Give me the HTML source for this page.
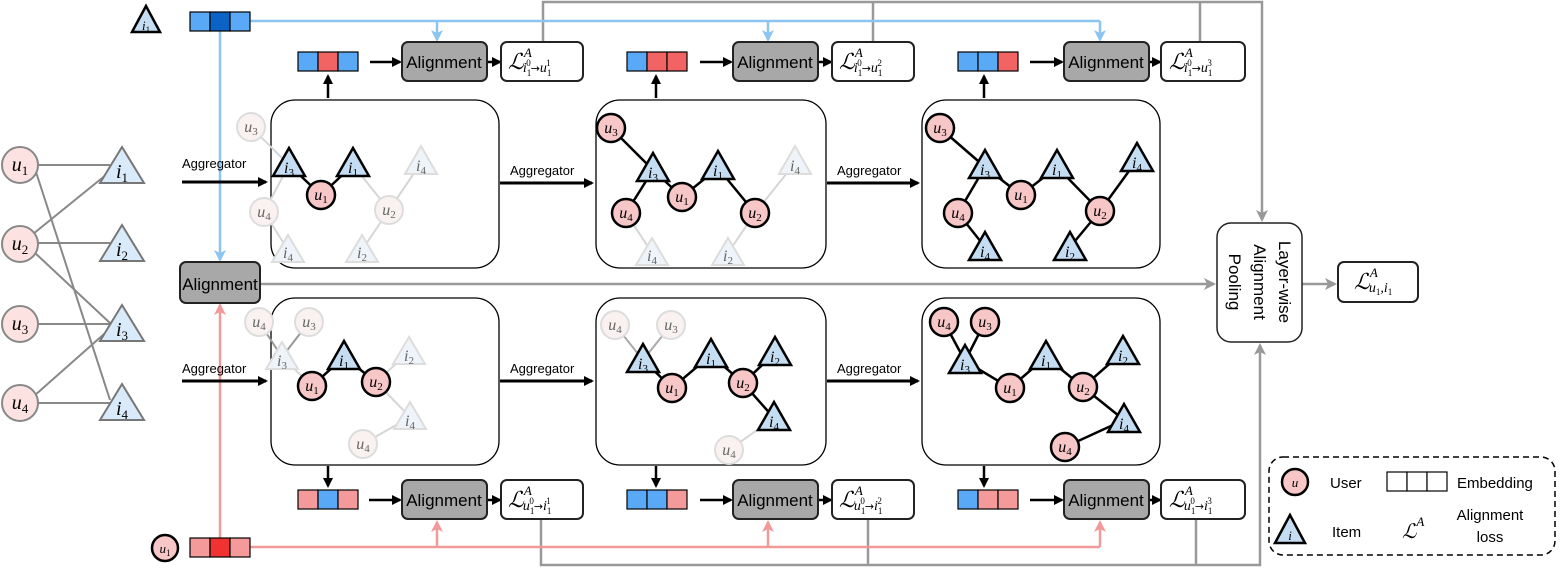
<!DOCTYPE html>
<html><head><meta charset="utf-8"><style>
html,body{margin:0;padding:0;background:#fff}
svg{display:block}
.n{font-family:"Liberation Serif",serif;font-style:italic;font-size:16px;text-anchor:middle}
.n tspan{font-style:normal;font-size:11px}
.nf{fill:#666}
.u{fill:#f7c6c6;stroke:#000;stroke-width:2.5}
.uf{fill:#faf1f1;stroke:#ddd;stroke-width:2}
.t{fill:#c4ddf3;stroke:#000;stroke-width:2.5;stroke-linejoin:miter}
.tf{fill:#eef4f9;stroke:#ddd;stroke-width:2}
.e{stroke:#000;stroke-width:2.5}
.ef{stroke:#d6d6d6;stroke-width:2}
.al{fill:#a8a8a8;stroke:#222;stroke-width:2}
.at{font-family:"Liberation Sans",sans-serif;font-size:17px;text-anchor:middle}
.lb{fill:#fff;stroke:#222;stroke-width:2}
.L{font-family:"DejaVu Serif","Liberation Serif",serif;font-style:italic;font-size:22px}
.sm{font-family:"Liberation Serif",serif;font-style:italic;font-size:13px}
.s{font-family:"Liberation Serif",serif;font-style:italic;font-size:14px}
.s2{font-family:"Liberation Serif",serif;font-style:normal;font-size:9px}
.ar{font-family:"DejaVu Sans",sans-serif;font-size:11px;font-style:normal}
.ag{font-family:"Liberation Sans",sans-serif;font-size:13px}
.pn{fill:#fff;stroke:#000;stroke-width:1.3}
</style></head><body>
<svg width="1561" height="568" viewBox="0 0 1561 568" xmlns="http://www.w3.org/2000/svg">
<defs>
<marker id="ab" markerWidth="10" markerHeight="10" refX="8" refY="5" orient="auto" markerUnits="userSpaceOnUse"><path d="M0,0 L10,5 L0,10 z" fill="#000"/></marker>
<marker id="ag" markerWidth="12" markerHeight="12" refX="10" refY="6" orient="auto" markerUnits="userSpaceOnUse"><path d="M0,0 L12,6 L0,12 L3,6 z" fill="#999"/></marker>
<marker id="abl" markerWidth="12" markerHeight="12" refX="10" refY="6" orient="auto" markerUnits="userSpaceOnUse"><path d="M0,0 L12,6 L0,12 L3,6 z" fill="#8cc4f2"/></marker>
<marker id="apk" markerWidth="12" markerHeight="12" refX="10" refY="6" orient="auto" markerUnits="userSpaceOnUse"><path d="M0,0 L12,6 L0,12 L3,6 z" fill="#f29a9a"/></marker>
</defs>

<g fill="none" stroke="#999" stroke-width="2.5">
<polyline points="543,42 543,2 1262,2 1262,220" marker-end="url(#ag)"/>
<line x1="873" y1="42" x2="873" y2="2"/>
<line x1="1200" y1="42" x2="1200" y2="2"/>
<polyline points="541,520 541,565 1260,565 1260,345" marker-end="url(#ag)"/>
<line x1="868" y1="520" x2="868" y2="565"/>
<line x1="1196" y1="520" x2="1196" y2="565"/>
<line x1="260" y1="284" x2="1214" y2="284" marker-end="url(#ag)"/>
<line x1="1302" y1="284" x2="1335" y2="284" marker-end="url(#ag)"/>
</g>
<g fill="none" stroke="#8cc4f2" stroke-width="2.5">
<line x1="250" y1="21" x2="1100" y2="21"/>
<line x1="437" y1="21" x2="437" y2="40" marker-end="url(#abl)"/>
<line x1="768" y1="21" x2="768" y2="40" marker-end="url(#abl)"/>
<line x1="1100" y1="21" x2="1100" y2="40" marker-end="url(#abl)"/>
<line x1="220" y1="31" x2="220" y2="260" marker-end="url(#abl)"/>
</g>
<g fill="none" stroke="#f29a9a" stroke-width="2.5">
<line x1="250" y1="547" x2="1100" y2="547"/>
<line x1="437" y1="547" x2="437" y2="522" marker-end="url(#apk)"/>
<line x1="768" y1="547" x2="768" y2="522" marker-end="url(#apk)"/>
<line x1="1100" y1="547" x2="1100" y2="522" marker-end="url(#apk)"/>
<line x1="220" y1="538" x2="220" y2="305" marker-end="url(#apk)"/>
</g>

<polygon class="t" points="146,6 132,32 160,32"/>
<text class="n" x="146" y="30" style="font-size:13px">i<tspan dy="3" style="font-size:9px">1</tspan></text>
<rect x="190" y="12" width="20" height="19" fill="#5aa9f6" stroke="#000" stroke-width="1.2"/>
<rect x="210" y="12" width="20" height="19" fill="#0b63c5" stroke="#000" stroke-width="1.2"/>
<rect x="230" y="12" width="20" height="19" fill="#5aa9f6" stroke="#000" stroke-width="1.2"/>
<circle class="u" cx="165" cy="548" r="13"/>
<text class="n" x="165" y="553" style="font-size:13px">u<tspan dy="3" style="font-size:9px">1</tspan></text>
<rect x="190" y="538" width="20" height="19" fill="#f59a9a" stroke="#000" stroke-width="1.2"/>
<rect x="210" y="538" width="20" height="19" fill="#f03232" stroke="#000" stroke-width="1.2"/>
<rect x="230" y="538" width="20" height="19" fill="#f59a9a" stroke="#000" stroke-width="1.2"/>

<rect class="al" x="180" y="262" width="80" height="41" rx="6"/>
<text class="at" x="220" y="290">Alignment</text>

<g stroke="#888" stroke-width="2">
<line x1="37" y1="165" x2="110" y2="165"/>
<line x1="36" y1="172" x2="110" y2="400"/>
<line x1="33" y1="234" x2="112" y2="170"/>
<line x1="38" y1="243" x2="110" y2="243"/>
<line x1="34" y1="252" x2="110" y2="323"/>
<line x1="38" y1="324" x2="112" y2="324"/>
<line x1="34" y1="396" x2="112" y2="327"/>
<line x1="38" y1="403" x2="112" y2="403"/>
</g>
<g fill="#fde2e2" stroke="#888" stroke-width="2">
<circle cx="20" cy="165" r="18"/><circle cx="20" cy="244" r="18"/><circle cx="20" cy="324" r="18"/><circle cx="20" cy="403" r="18"/>
</g>
<g fill="#d9ebfa" stroke="#777" stroke-width="2">
<polygon points="122,147 100,183 144,183"/><polygon points="122,225 100,261 144,261"/><polygon points="122,305 100,341 144,341"/><polygon points="122,384 100,420 144,420"/>
</g>
<g>
<text x="20" y="171" class="n" style="font-size:20px">u<tspan dy="4" style="font-size:13px">1</tspan></text>
<text x="20" y="250" class="n" style="font-size:20px">u<tspan dy="4" style="font-size:13px">2</tspan></text>
<text x="20" y="330" class="n" style="font-size:20px">u<tspan dy="4" style="font-size:13px">3</tspan></text>
<text x="20" y="409" class="n" style="font-size:20px">u<tspan dy="4" style="font-size:13px">4</tspan></text>
<text x="122" y="178" class="n" style="font-size:20px">i<tspan dy="4" style="font-size:13px">1</tspan></text>
<text x="122" y="256" class="n" style="font-size:20px">i<tspan dy="4" style="font-size:13px">2</tspan></text>
<text x="122" y="336" class="n" style="font-size:20px">i<tspan dy="4" style="font-size:13px">3</tspan></text>
<text x="122" y="415" class="n" style="font-size:20px">i<tspan dy="4" style="font-size:13px">4</tspan></text>
</g>

<g stroke="#000" stroke-width="3">
<line x1="182" y1="182" x2="266" y2="182" marker-end="url(#ab)"/>
<line x1="500" y1="183" x2="592" y2="183" marker-end="url(#ab)"/>
<line x1="827" y1="183" x2="918" y2="183" marker-end="url(#ab)"/>
<line x1="182" y1="381" x2="266" y2="381" marker-end="url(#ab)"/>
<line x1="500" y1="381" x2="592" y2="381" marker-end="url(#ab)"/>
<line x1="827" y1="381" x2="918" y2="381" marker-end="url(#ab)"/>
</g>
<g class="ag">
<text x="182" y="168">Aggregator</text><text x="510" y="175">Aggregator</text><text x="837" y="175">Aggregator</text>
<text x="182" y="373">Aggregator</text><text x="510" y="373">Aggregator</text><text x="837" y="373">Aggregator</text>
</g>

<rect class="pn" x="271" y="100" width="228" height="168" rx="24"/>
<rect class="pn" x="596" y="100" width="230" height="168" rx="24"/>
<rect class="pn" x="922" y="100" width="238" height="168" rx="24"/>
<rect class="pn" x="271" y="298" width="228" height="167" rx="24"/>
<rect class="pn" x="596" y="298" width="230" height="167" rx="24"/>
<rect class="pn" x="922" y="298" width="238" height="167" rx="24"/>

<g stroke="#000" stroke-width="2.5">
<line x1="328" y1="98" x2="328" y2="76" marker-end="url(#ab)"/>
<line x1="656" y1="98" x2="656" y2="76" marker-end="url(#ab)"/>
<line x1="984" y1="98" x2="984" y2="76" marker-end="url(#ab)"/>
<line x1="328" y1="466" x2="328" y2="486" marker-end="url(#ab)"/>
<line x1="656" y1="466" x2="656" y2="486" marker-end="url(#ab)"/>
<line x1="984" y1="466" x2="984" y2="486" marker-end="url(#ab)"/>
<line x1="370" y1="62" x2="400" y2="62" marker-end="url(#ab)"/>
<line x1="487" y1="62" x2="500" y2="62" marker-end="url(#ab)"/>
<line x1="700" y1="62" x2="731" y2="62" marker-end="url(#ab)"/>
<line x1="818" y1="62" x2="831" y2="62" marker-end="url(#ab)"/>
<line x1="1030" y1="62" x2="1062" y2="62" marker-end="url(#ab)"/>
<line x1="1149" y1="62" x2="1160" y2="62" marker-end="url(#ab)"/>
<line x1="369" y1="500" x2="400" y2="500" marker-end="url(#ab)"/>
<line x1="487" y1="500" x2="500" y2="500" marker-end="url(#ab)"/>
<line x1="700" y1="500" x2="731" y2="500" marker-end="url(#ab)"/>
<line x1="818" y1="500" x2="831" y2="500" marker-end="url(#ab)"/>
<line x1="1030" y1="500" x2="1062" y2="500" marker-end="url(#ab)"/>
<line x1="1149" y1="500" x2="1160" y2="500" marker-end="url(#ab)"/>
</g>

<g stroke="#000" stroke-width="1.2">
<rect x="298" y="52" width="20" height="19" fill="#5aa9f6"/><rect x="318" y="52" width="20" height="19" fill="#f26464"/><rect x="338" y="52" width="20" height="19" fill="#5aa9f6"/>
<rect x="627" y="52" width="20" height="19" fill="#5aa9f6"/><rect x="647" y="52" width="20" height="19" fill="#f26464"/><rect x="667" y="52" width="20" height="19" fill="#f26464"/>
<rect x="958" y="52" width="20" height="19" fill="#5aa9f6"/><rect x="978" y="52" width="20" height="19" fill="#5aa9f6"/><rect x="998" y="52" width="20" height="19" fill="#f26464"/>
<rect x="298" y="490" width="20" height="19" fill="#f59a9a"/><rect x="318" y="490" width="20" height="19" fill="#5aa9f6"/><rect x="338" y="490" width="20" height="19" fill="#f59a9a"/>
<rect x="627" y="490" width="20" height="19" fill="#5aa9f6"/><rect x="647" y="490" width="20" height="19" fill="#5aa9f6"/><rect x="667" y="490" width="20" height="19" fill="#f59a9a"/>
<rect x="958" y="490" width="20" height="19" fill="#5aa9f6"/><rect x="978" y="490" width="20" height="19" fill="#f59a9a"/><rect x="998" y="490" width="20" height="19" fill="#f59a9a"/>
</g>

<rect class="al" x="402" y="42" width="85" height="39" rx="6"/><text class="at" x="444" y="68">Alignment</text>
<rect class="al" x="733" y="42" width="85" height="39" rx="6"/><text class="at" x="775" y="68">Alignment</text>
<rect class="al" x="1064" y="42" width="85" height="39" rx="6"/><text class="at" x="1106" y="68">Alignment</text>
<rect class="al" x="402" y="480" width="85" height="39" rx="6"/><text class="at" x="444" y="506">Alignment</text>
<rect class="al" x="733" y="480" width="85" height="39" rx="6"/><text class="at" x="775" y="506">Alignment</text>
<rect class="al" x="1064" y="480" width="85" height="39" rx="6"/><text class="at" x="1106" y="506">Alignment</text>

<!-- loss boxes -->
<rect class="lb" x="501" y="42" width="82" height="39" rx="6"/>
<text x="508" y="69"><tspan class="L">ℒ</tspan><tspan class="sm" dy="-12">A</tspan><tspan class="s" dx="-9" dy="15">i</tspan><tspan class="s2" dy="4">1</tspan><tspan class="s2" dx="-5" dy="-10">0</tspan><tspan class="ar" dy="6">→</tspan><tspan class="s" dy="0">u</tspan><tspan class="s2" dy="4">1</tspan><tspan class="s2" dx="-5" dy="-10">1</tspan></text>
<rect class="lb" x="832" y="42" width="82" height="39" rx="6"/>
<text x="839" y="69"><tspan class="L">ℒ</tspan><tspan class="sm" dy="-12">A</tspan><tspan class="s" dx="-9" dy="15">i</tspan><tspan class="s2" dy="4">1</tspan><tspan class="s2" dx="-5" dy="-10">0</tspan><tspan class="ar" dy="6">→</tspan><tspan class="s" dy="0">u</tspan><tspan class="s2" dy="4">1</tspan><tspan class="s2" dx="-5" dy="-10">2</tspan></text>
<rect class="lb" x="1161" y="42" width="84" height="39" rx="6"/>
<text x="1169" y="69"><tspan class="L">ℒ</tspan><tspan class="sm" dy="-12">A</tspan><tspan class="s" dx="-9" dy="15">i</tspan><tspan class="s2" dy="4">1</tspan><tspan class="s2" dx="-5" dy="-10">0</tspan><tspan class="ar" dy="6">→</tspan><tspan class="s" dy="0">u</tspan><tspan class="s2" dy="4">1</tspan><tspan class="s2" dx="-5" dy="-10">3</tspan></text>
<rect class="lb" x="501" y="480" width="82" height="39" rx="6"/>
<text x="508" y="507"><tspan class="L">ℒ</tspan><tspan class="sm" dy="-12">A</tspan><tspan class="s" dx="-9" dy="15">u</tspan><tspan class="s2" dy="4">1</tspan><tspan class="s2" dx="-5" dy="-10">0</tspan><tspan class="ar" dy="6">→</tspan><tspan class="s" dy="0">i</tspan><tspan class="s2" dy="4">1</tspan><tspan class="s2" dx="-5" dy="-10">1</tspan></text>
<rect class="lb" x="832" y="480" width="82" height="39" rx="6"/>
<text x="839" y="507"><tspan class="L">ℒ</tspan><tspan class="sm" dy="-12">A</tspan><tspan class="s" dx="-9" dy="15">u</tspan><tspan class="s2" dy="4">1</tspan><tspan class="s2" dx="-5" dy="-10">0</tspan><tspan class="ar" dy="6">→</tspan><tspan class="s" dy="0">i</tspan><tspan class="s2" dy="4">1</tspan><tspan class="s2" dx="-5" dy="-10">2</tspan></text>
<rect class="lb" x="1161" y="480" width="84" height="39" rx="6"/>
<text x="1169" y="507"><tspan class="L">ℒ</tspan><tspan class="sm" dy="-12">A</tspan><tspan class="s" dx="-9" dy="15">u</tspan><tspan class="s2" dy="4">1</tspan><tspan class="s2" dx="-5" dy="-10">0</tspan><tspan class="ar" dy="6">→</tspan><tspan class="s" dy="0">i</tspan><tspan class="s2" dy="4">1</tspan><tspan class="s2" dx="-5" dy="-10">3</tspan></text>

<rect class="lb" x="1217" y="223" width="85" height="119" rx="14" style="stroke-width:1.5"/>
<g transform="translate(1260,282) rotate(90)" font-family="Liberation Sans, sans-serif" font-size="17" text-anchor="middle">
<text x="0" y="-19">Layer-wise</text><text x="0" y="6">Alignment</text><text x="0" y="31">Pooling</text>
</g>
<rect class="lb" x="1338" y="262" width="80" height="40" rx="6"/>
<text x="1354" y="289"><tspan class="L">ℒ</tspan><tspan class="sm" dy="-12">A</tspan><tspan class="s" dx="-9" dy="15">u</tspan><tspan class="s2" dy="3">1</tspan><tspan class="s" dy="-3">,i</tspan><tspan class="s2" dy="3">1</tspan></text>

<!-- graph panels -->
<g>
<line class="ef" x1="251" y1="127" x2="289" y2="165"/>
<line class="ef" x1="289" y1="165" x2="264" y2="212"/>
<line class="ef" x1="264" y1="212" x2="288" y2="250"/>
<line class="ef" x1="353" y1="165" x2="389" y2="210"/>
<line class="ef" x1="389" y1="210" x2="421" y2="163"/>
<line class="ef" x1="389" y1="210" x2="362" y2="250"/>
<line class="e" x1="289" y1="165" x2="321" y2="195"/>
<line class="e" x1="321" y1="195" x2="353" y2="165"/>
</g>
<g>
<line class="e" x1="611" y1="128" x2="653" y2="170"/>
<line class="e" x1="653" y1="170" x2="682" y2="197"/>
<line class="e" x1="682" y1="197" x2="718" y2="168"/>
<line class="e" x1="718" y1="168" x2="755" y2="213"/>
<line class="e" x1="653" y1="170" x2="626" y2="213"/>
<line class="ef" x1="755" y1="213" x2="795" y2="163"/>
<line class="ef" x1="626" y1="213" x2="652" y2="253"/>
<line class="ef" x1="755" y1="213" x2="728" y2="253"/>
</g>
<g class="e">
<line x1="940" y1="128" x2="985" y2="167"/><line x1="985" y1="167" x2="1021" y2="195"/><line x1="1021" y1="195" x2="1057" y2="167"/>
<line x1="1057" y1="167" x2="1100" y2="211"/><line x1="1100" y1="211" x2="1137" y2="160"/><line x1="985" y1="167" x2="958" y2="213"/>
<line x1="958" y1="213" x2="985" y2="247"/><line x1="1100" y1="211" x2="1070" y2="247"/>
</g>
<g>
<line class="ef" x1="259" y1="322" x2="282" y2="357" style="stroke:#999"/>
<line class="ef" x1="309" y1="322" x2="282" y2="357" style="stroke:#999"/>
<line class="ef" x1="282" y1="357" x2="312" y2="386"/>
<line class="ef" x1="376" y1="382" x2="409" y2="352"/>
<line class="ef" x1="376" y1="382" x2="410" y2="417"/>
<line class="ef" x1="410" y1="417" x2="363" y2="444"/>
<line class="e" x1="312" y1="386" x2="344" y2="357"/>
<line class="e" x1="344" y1="357" x2="376" y2="382"/>
</g>
<g>
<line class="ef" x1="615" y1="325" x2="643" y2="360" style="stroke:#aaa"/>
<line class="ef" x1="671" y1="325" x2="643" y2="360" style="stroke:#aaa"/>
<line class="ef" x1="774" y1="418" x2="729" y2="450"/>
<line class="e" x1="643" y1="360" x2="672" y2="388"/><line class="e" x1="672" y1="388" x2="711" y2="355"/>
<line class="e" x1="711" y1="355" x2="743" y2="383"/><line class="e" x1="743" y1="383" x2="775" y2="353"/>
<line class="e" x1="743" y1="383" x2="774" y2="418"/>
</g>
<g class="e">
<line x1="944" y1="322" x2="965" y2="361"/><line x1="985" y1="322" x2="965" y2="361"/><line x1="965" y1="361" x2="1010" y2="388"/>
<line x1="1010" y1="388" x2="1046" y2="357"/><line x1="1046" y1="357" x2="1083" y2="387"/><line x1="1083" y1="387" x2="1123" y2="352"/>
<line x1="1083" y1="387" x2="1124" y2="420"/><line x1="1124" y1="420" x2="1065" y2="447"/>
</g>

<circle class="uf" cx="251" cy="127" r="14"/><text class="n nf" x="251" y="132">u<tspan dy="3">3</tspan></text>
<polygon class="t" points="289,148 273,176 305,176"/><text class="n" x="289" y="173">i<tspan dy="3">3</tspan></text>
<circle class="u" cx="321" cy="195" r="14"/><text class="n" x="321" y="200">u<tspan dy="3">1</tspan></text>
<polygon class="t" points="353,148 337,176 369,176"/><text class="n" x="353" y="173">i<tspan dy="3">1</tspan></text>
<polygon class="tf" points="421,146 405,174 437,174"/><text class="n nf" x="421" y="171">i<tspan dy="3">4</tspan></text>
<circle class="uf" cx="264" cy="212" r="14"/><text class="n nf" x="264" y="217">u<tspan dy="3">4</tspan></text>
<circle class="uf" cx="389" cy="210" r="14"/><text class="n nf" x="389" y="215">u<tspan dy="3">2</tspan></text>
<polygon class="tf" points="288,235 272,262 304,262"/><text class="n nf" x="288" y="258">i<tspan dy="3">4</tspan></text>
<polygon class="tf" points="362,235 346,262 378,262"/><text class="n nf" x="362" y="258">i<tspan dy="3">2</tspan></text>

<circle class="u" cx="611" cy="128" r="14"/><text class="n" x="611" y="133">u<tspan dy="3">3</tspan></text>
<polygon class="t" points="653,153 637,181 669,181"/><text class="n" x="653" y="178">i<tspan dy="3">3</tspan></text>
<circle class="u" cx="682" cy="197" r="14"/><text class="n" x="682" y="202">u<tspan dy="3">1</tspan></text>
<polygon class="t" points="718,151 702,179 734,179"/><text class="n" x="718" y="176">i<tspan dy="3">1</tspan></text>
<polygon class="tf" points="795,146 779,174 811,174"/><text class="n nf" x="795" y="171">i<tspan dy="3">4</tspan></text>
<circle class="u" cx="626" cy="213" r="14"/><text class="n" x="626" y="218">u<tspan dy="3">4</tspan></text>
<circle class="u" cx="755" cy="213" r="14"/><text class="n" x="755" y="218">u<tspan dy="3">2</tspan></text>
<polygon class="tf" points="652,238 636,265 668,265"/><text class="n nf" x="652" y="261">i<tspan dy="3">4</tspan></text>
<polygon class="tf" points="728,238 712,265 744,265"/><text class="n nf" x="728" y="261">i<tspan dy="3">2</tspan></text>

<circle class="u" cx="940" cy="128" r="14"/><text class="n" x="940" y="133">u<tspan dy="3">3</tspan></text>
<polygon class="t" points="985,150 969,178 1001,178"/><text class="n" x="985" y="175">i<tspan dy="3">3</tspan></text>
<circle class="u" cx="1021" cy="195" r="14"/><text class="n" x="1021" y="200">u<tspan dy="3">1</tspan></text>
<polygon class="t" points="1057,150 1041,178 1073,178"/><text class="n" x="1057" y="175">i<tspan dy="3">1</tspan></text>
<polygon class="t" points="1137,143 1121,171 1153,171"/><text class="n" x="1137" y="168">i<tspan dy="3">4</tspan></text>
<circle class="u" cx="958" cy="213" r="14"/><text class="n" x="958" y="218">u<tspan dy="3">4</tspan></text>
<circle class="u" cx="1100" cy="211" r="14"/><text class="n" x="1100" y="216">u<tspan dy="3">2</tspan></text>
<polygon class="t" points="985,232 969,260 1001,260"/><text class="n" x="985" y="257">i<tspan dy="3">4</tspan></text>
<polygon class="t" points="1070,232 1054,260 1086,260"/><text class="n" x="1070" y="257">i<tspan dy="3">2</tspan></text>

<circle class="uf" cx="259" cy="322" r="14"/><text class="n nf" x="259" y="327">u<tspan dy="3">4</tspan></text>
<circle class="uf" cx="309" cy="322" r="14"/><text class="n nf" x="309" y="327">u<tspan dy="3">3</tspan></text>
<polygon class="tf" points="282,342 266,369 298,369"/><text class="n nf" x="282" y="366">i<tspan dy="3">3</tspan></text>
<circle class="u" cx="312" cy="386" r="14"/><text class="n" x="312" y="391">u<tspan dy="3">1</tspan></text>
<polygon class="t" points="344,341 328,369 360,369"/><text class="n" x="344" y="366">i<tspan dy="3">1</tspan></text>
<circle class="u" cx="376" cy="382" r="14"/><text class="n" x="376" y="387">u<tspan dy="3">2</tspan></text>
<polygon class="tf" points="409,337 393,364 425,364"/><text class="n nf" x="409" y="361">i<tspan dy="3">2</tspan></text>
<polygon class="tf" points="410,402 394,429 426,429"/><text class="n nf" x="410" y="426">i<tspan dy="3">4</tspan></text>
<circle class="uf" cx="363" cy="444" r="14"/><text class="n nf" x="363" y="449">u<tspan dy="3">4</tspan></text>

<circle class="uf" cx="615" cy="325" r="14"/><text class="n nf" x="615" y="330">u<tspan dy="3">4</tspan></text>
<circle class="uf" cx="671" cy="325" r="14"/><text class="n nf" x="671" y="330">u<tspan dy="3">3</tspan></text>
<polygon class="t" points="643,344 627,372 659,372"/><text class="n" x="643" y="369">i<tspan dy="3">3</tspan></text>
<circle class="u" cx="672" cy="388" r="14"/><text class="n" x="672" y="393">u<tspan dy="3">1</tspan></text>
<polygon class="t" points="711,339 695,367 727,367"/><text class="n" x="711" y="364">i<tspan dy="3">1</tspan></text>
<circle class="u" cx="743" cy="383" r="14"/><text class="n" x="743" y="388">u<tspan dy="3">2</tspan></text>
<polygon class="t" points="775,337 759,365 791,365"/><text class="n" x="775" y="362">i<tspan dy="3">2</tspan></text>
<polygon class="t" points="774,402 758,430 790,430"/><text class="n" x="774" y="427">i<tspan dy="3">4</tspan></text>
<circle class="uf" cx="729" cy="450" r="14"/><text class="n nf" x="729" y="455">u<tspan dy="3">4</tspan></text>

<circle class="u" cx="944" cy="322" r="14"/><text class="n" x="944" y="327">u<tspan dy="3">4</tspan></text>
<circle class="u" cx="985" cy="322" r="14"/><text class="n" x="985" y="327">u<tspan dy="3">3</tspan></text>
<polygon class="t" points="965,345 949,373 981,373"/><text class="n" x="965" y="370">i<tspan dy="3">3</tspan></text>
<circle class="u" cx="1010" cy="388" r="14"/><text class="n" x="1010" y="393">u<tspan dy="3">1</tspan></text>
<polygon class="t" points="1046,341 1030,369 1062,369"/><text class="n" x="1046" y="366">i<tspan dy="3">1</tspan></text>
<circle class="u" cx="1083" cy="387" r="14"/><text class="n" x="1083" y="392">u<tspan dy="3">2</tspan></text>
<polygon class="t" points="1123,336 1107,364 1139,364"/><text class="n" x="1123" y="361">i<tspan dy="3">2</tspan></text>
<polygon class="t" points="1124,404 1108,432 1140,432"/><text class="n" x="1124" y="429">i<tspan dy="3">4</tspan></text>
<circle class="u" cx="1065" cy="447" r="14"/><text class="n" x="1065" y="452">u<tspan dy="3">4</tspan></text>

<rect x="1269" y="457" width="286" height="98" rx="14" fill="#fff" stroke="#000" stroke-width="1.5" stroke-dasharray="6,4"/>
<circle class="u" cx="1295" cy="482" r="13"/><text class="n" x="1295" y="487" style="font-size:13px">u</text>
<text x="1330" y="488" font-family="Liberation Sans, sans-serif" font-size="15">User</text>
<g fill="#fff" stroke="#000" stroke-width="1.2"><rect x="1387" y="472" width="20" height="19"/><rect x="1407" y="472" width="20" height="19"/><rect x="1427" y="472" width="20" height="19"/></g>
<text x="1457" y="488" font-family="Liberation Sans, sans-serif" font-size="15">Embedding</text>
<polygon class="t" points="1290,515 1275,543 1305,543"/><text class="n" x="1290" y="540" style="font-size:13px">i</text>
<text x="1332" y="537" font-family="Liberation Sans, sans-serif" font-size="15">Item</text>
<text x="1402" y="538"><tspan class="L" style="font-size:20px">ℒ</tspan><tspan class="sm" dy="-12">A</tspan></text>
<text x="1490" y="520" font-family="Liberation Sans, sans-serif" font-size="15" text-anchor="middle">Alignment</text>
<text x="1490" y="542" font-family="Liberation Sans, sans-serif" font-size="15" text-anchor="middle">loss</text>
</svg>
</body></html>
